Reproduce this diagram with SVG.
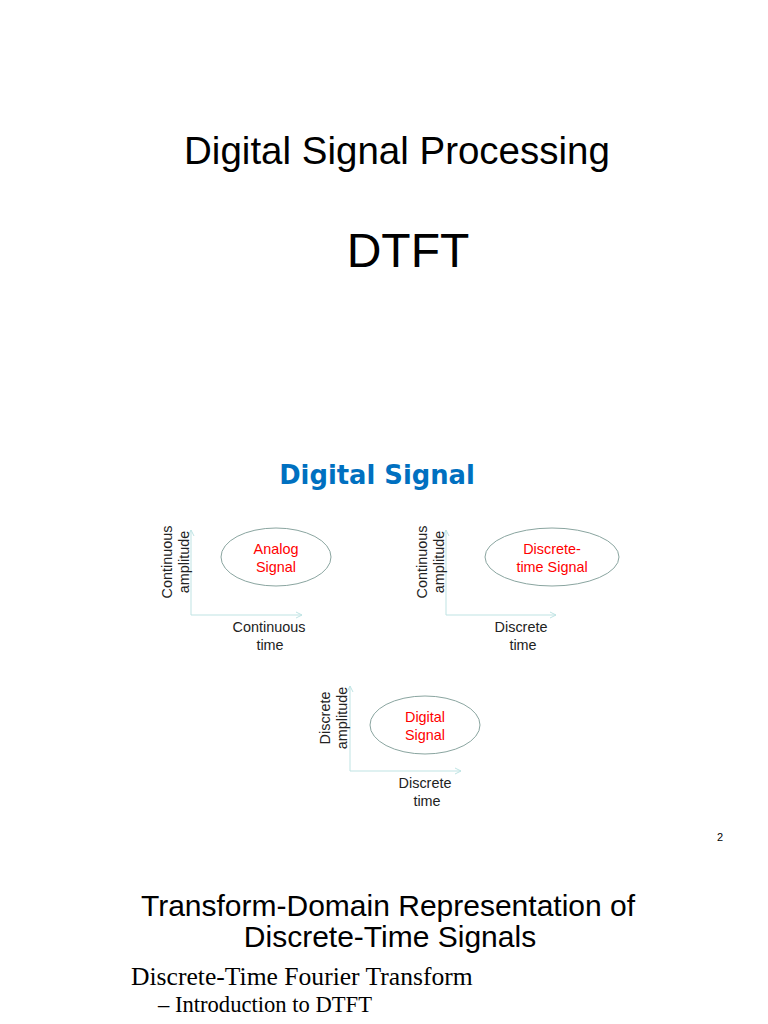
<svg xmlns="http://www.w3.org/2000/svg" width="768" height="1024" viewBox="0 0 768 1024">
<defs>
<style>
.s{font-family:"Liberation Sans",Arial,sans-serif;fill:#000}
.r{font-family:"Liberation Sans",Arial,sans-serif;fill:#ff0000;font-size:14.4px;text-anchor:middle}
.l{font-family:"Liberation Sans",Arial,sans-serif;fill:#222;font-size:14.4px;text-anchor:middle}
.e{fill:none;stroke:#8aa5a0;stroke-width:1}
.ax{fill:none;stroke:#bfe3e3;stroke-width:1}
</style>
<marker id="a" markerWidth="8" markerHeight="8" refX="6" refY="4" orient="auto" markerUnits="userSpaceOnUse"><path d="M0,1 L6,4 L0,7" fill="none" stroke="#bfe3e3"/></marker>
</defs>
<rect width="768" height="1024" fill="#fff"/>
<text class="s" x="397" y="164" font-size="38.5" text-anchor="middle">Digital Signal Processing</text>
<text class="s" x="408" y="267" font-size="48" text-anchor="middle">DTFT</text>
<text x="377" y="484" font-family="'DejaVu Sans',sans-serif" font-weight="bold" font-size="25.8" fill="#0070c0" text-anchor="middle">Digital Signal</text>
<g id="connectors">
<path class="ax" d="M191,615 V530" marker-end="url(#a)"/><path class="ax" d="M191,615 H302" marker-end="url(#a)"/>
<path class="ax" d="M446,615 V530" marker-end="url(#a)"/><path class="ax" d="M446,615 H556" marker-end="url(#a)"/>
<path class="ax" d="M350,771 V686" marker-end="url(#a)"/><path class="ax" d="M350,771 H461" marker-end="url(#a)"/>
</g>
<g id="analog"><ellipse class="e" cx="276" cy="557" rx="55" ry="29"/><text class="r" x="276" y="554">Analog</text><text class="r" x="276" y="572">Signal</text></g>
<g id="discrete"><ellipse class="e" cx="552" cy="557" rx="67" ry="29"/><text class="r" x="552" y="554">Discrete-</text><text class="r" x="552" y="572">time Signal</text></g>
<g id="digital"><ellipse class="e" cx="425" cy="725" rx="55" ry="29"/><text class="r" x="425" y="722">Digital</text><text class="r" x="425" y="740">Signal</text></g>
<g id="labels">
<text class="l" transform="translate(172,562) rotate(-90)">Continuous</text>
<text class="l" transform="translate(189,562) rotate(-90)">amplitude</text>
<text class="l" transform="translate(427,562) rotate(-90)">Continuous</text>
<text class="l" transform="translate(444,562) rotate(-90)">amplitude</text>
<text class="l" transform="translate(330,718) rotate(-90)">Discrete</text>
<text class="l" transform="translate(347,718) rotate(-90)">amplitude</text>
<text class="l" x="269" y="632">Continuous</text><text class="l" x="270" y="650">time</text>
<text class="l" x="521" y="632">Discrete</text><text class="l" x="523" y="650">time</text>
<text class="l" x="425" y="788">Discrete</text><text class="l" x="427" y="806">time</text>
</g>
<text class="s" x="720" y="841" font-size="11" text-anchor="middle">2</text>
<text class="s" x="388" y="916" font-size="30" text-anchor="middle">Transform-Domain Representation of</text>
<text class="s" x="390" y="947" font-size="30" text-anchor="middle">Discrete-Time Signals</text>
<text x="131" y="985" font-family="'Liberation Serif',serif" font-size="25.6" fill="#000">Discrete-Time Fourier Transform</text>
<text x="158" y="1012" font-family="'Liberation Serif',serif" font-size="22.6" fill="#000">– Introduction to DTFT</text>
</svg>
